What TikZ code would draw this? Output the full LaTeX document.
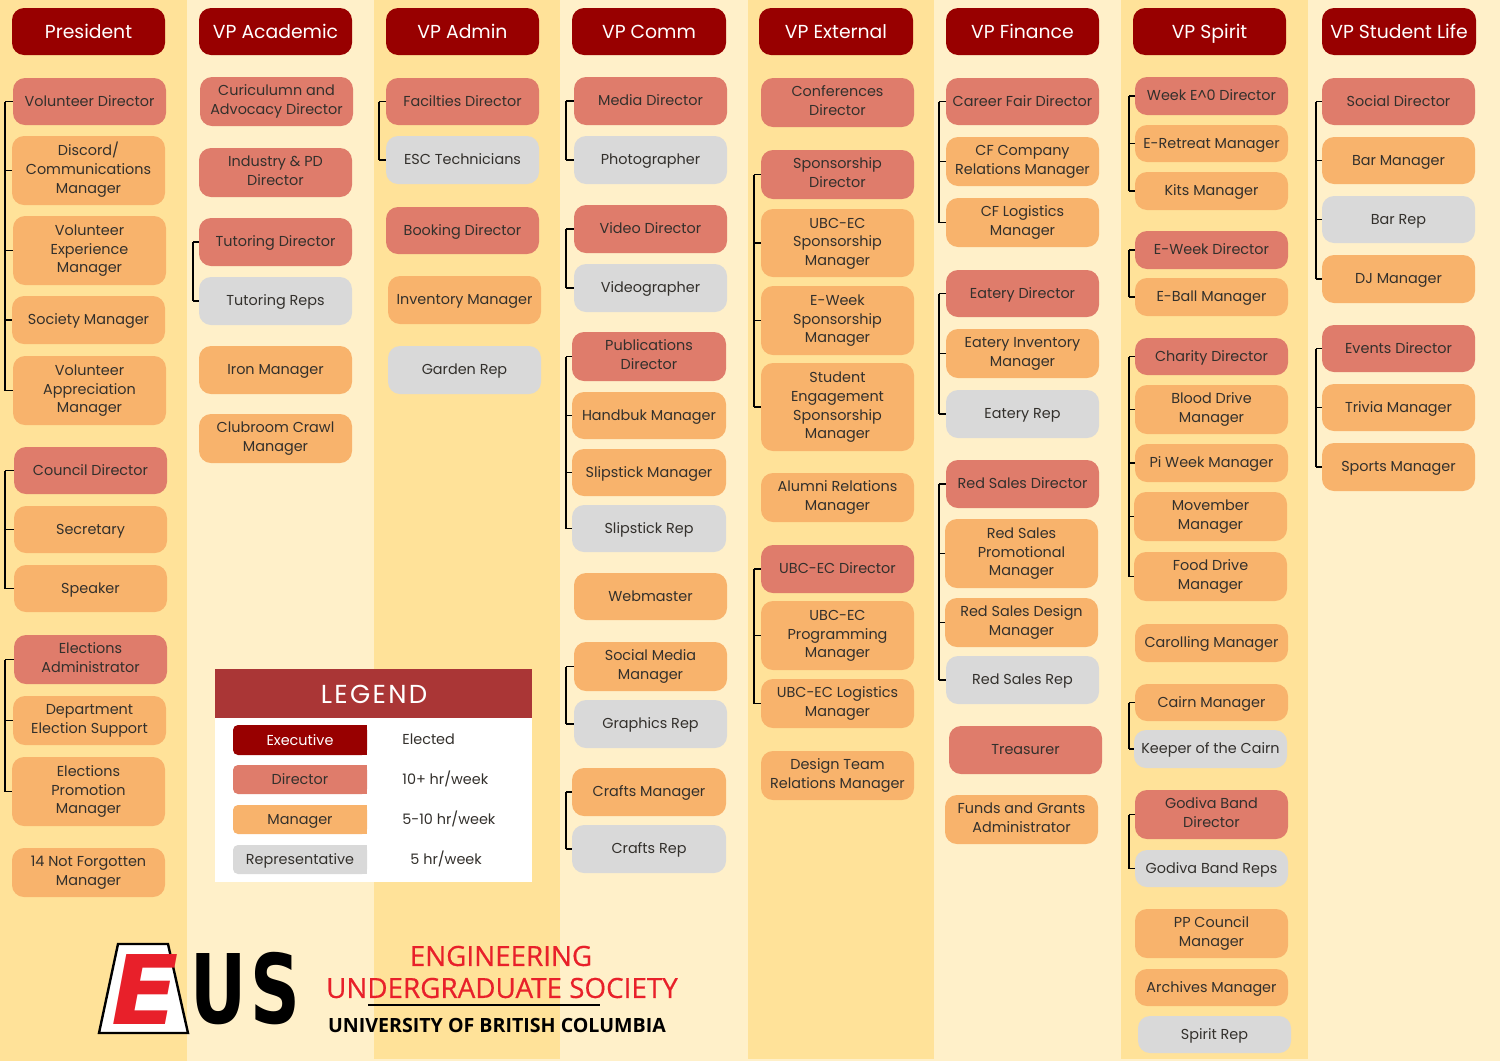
\documentclass[tikz,border=0pt]{standalone}
\usepackage{fontspec}
\setmainfont{Poppins}
\newfontfamily\logofont[FakeBold=0.5]{Open Sans}
\newfontfamily\logobold{Open Sans}
\newfontfamily\blockfont{DejaVu Sans}
\definecolor{execc}{HTML}{980000}
\definecolor{dirc}{HTML}{DF7C6B}
\definecolor{mgrc}{HTML}{F8B36C}
\definecolor{repc}{HTML}{D9D9D9}
\definecolor{bgdark}{HTML}{FFE299}
\definecolor{bglight}{HTML}{FFF0C9}
\definecolor{legc}{HTML}{AA3636}
\definecolor{logored}{HTML}{E8202A}
\definecolor{ink}{HTML}{33302C}
\tikzset{
  x=0.5pt,y=-0.5pt,
  box/.style={rounded corners=6pt,inner sep=0pt,align=center,text=ink,font=\fontsize{7.2}{9.35}\selectfont,
    execute at begin node={\rule{0pt}{7.5pt}},execute at end node={\rule[-2.8pt]{0pt}{2.8pt}}},
  execbox/.style={box,fill=execc,text=white,font=\fontsize{9.4}{11}\selectfont,
    execute at begin node={\rule{0pt}{9.5pt}}},
  dirbox/.style={box,fill=dirc},
  mgrbox/.style={box,fill=mgrc},
  repbox/.style={box,fill=repc},
  conn/.style={draw=black,line width=0.65pt},
  swatch/.style={inner sep=0pt,font=\fontsize{7.2}{9}\selectfont,text=ink,execute at begin node=\strut},
  legval/.style={swatch,anchor=west},
  logotext/.style={inner sep=0pt,font=\logofont\fontsize{13.9}{15}\selectfont,text=logored},
  blockglyph/.style={inner sep=0pt,transform shape,font=\blockfont\bfseries\fontsize{48}{48}\selectfont},
}
\makeatletter
\newcommand\bx[7]{% name, style, x1,y1,x2,y2, text
  \pgfmathsetmacro\bw{(#5-#3)*0.5}\pgfmathsetmacro\bh{(#6-#4)*0.5}
  \pgfmathsetmacro\bcx{(#3+#5)/2}\pgfmathsetmacro\bcy{(#4+#6)/2}
  \in@{\\}{#7}%
  \ifin@
    \node[#2,minimum width=\bw pt,minimum height=\bh pt] (#1) at (\bcx,\bcy) {\begin{tabular}{@{}c@{}}#7\end{tabular}};
  \else
    \node[#2,minimum width=\bw pt,minimum height=\bh pt] (#1) at (\bcx,\bcy) {#7};
  \fi}
\makeatother
\newcommand\brk[2]{% spine x, list of node names
  \coordinate (S) at (#1,0);
  \foreach \n [count=\i] in {#2}{
    \ifnum\i=1 \coordinate (F) at (\n.west -| S);\fi
    \coordinate (L) at (\n.west -| S);
    \draw[conn] (\n.west) -- (\n.west -| S);
  }
  \draw[conn] (F) -- (L);}
\begin{document}
\begin{tikzpicture}
\useasboundingbox (0,0) rectangle (1500,1061);
\fill[bglight] (0,0) rectangle (1500,1061);
\fill[bgdark] (0,0) rectangle (187,1061);
\foreach \a/\b in {374/560,748/934,1121/1308}
  \fill[bgdark] (\a,0) rectangle (\b,1059);
% Column 1
\bx{pres}{execbox}{12}{8}{165}{55}{President}
\bx{a1}{dirbox}{13}{78}{166}{125}{Volunteer Director}
\bx{a2}{mgrbox}{12}{136}{165}{205}{Discord/\\Communications\\Manager}
\bx{a3}{mgrbox}{13}{216}{166}{285}{Volunteer\\Experience\\Manager}
\bx{a4}{mgrbox}{12}{296}{165}{344}{Society Manager}
\bx{a5}{mgrbox}{13}{356}{166}{425}{Volunteer\\Appreciation\\Manager}
\bx{a6}{dirbox}{14}{447}{167}{494}{Council Director}
\bx{a7}{mgrbox}{14}{506}{167}{553}{Secretary}
\bx{a8}{mgrbox}{14}{565}{167}{612}{Speaker}
\bx{a9}{dirbox}{14}{635}{167}{684}{Elections\\Administrator}
\bx{a10}{mgrbox}{13}{696}{166}{745}{Department\\Election Support}
\bx{a11}{mgrbox}{12}{757}{165}{826}{Elections\\Promotion\\Manager}
\bx{a12}{mgrbox}{12}{848}{165}{897}{14 Not Forgotten\\Manager}
% Column 2
\bx{vpa}{execbox}{199}{8}{352}{55}{VP Academic}
\bx{b1}{dirbox}{200}{77}{353}{126}{Curiculumn and\\Advocacy Director}
\bx{b2}{dirbox}{199}{148}{352}{197}{Industry \& PD\\Director}
\bx{b3}{dirbox}{199}{218}{352}{266}{Tutoring Director}
\bx{b4}{repbox}{199}{277}{352}{325}{Tutoring Reps}
\bx{b5}{mgrbox}{199}{346}{352}{394}{Iron Manager}
\bx{b6}{mgrbox}{199}{414}{352}{463}{Clubroom Crawl\\Manager}
% Column 3
\bx{vpd}{execbox}{386}{8}{539}{55}{VP Admin}
\bx{c1}{dirbox}{386}{78}{539}{125}{Facilties Director}
\bx{c2}{repbox}{386}{136}{539}{184}{ESC Technicians}
\bx{c3}{dirbox}{386}{207}{539}{254}{Booking Director}
\bx{c4}{mgrbox}{388}{276}{541}{324}{Inventory Manager}
\bx{c5}{repbox}{388}{346}{541}{394}{Garden Rep}
% Column 4
\bx{vpc}{execbox}{572}{8}{726}{55}{VP Comm}
\bx{d1}{dirbox}{574}{77}{727}{125}{Media Director}
\bx{d2}{repbox}{574}{136}{727}{184}{Photographer}
\bx{d3}{dirbox}{574}{205}{727}{253}{Video Director}
\bx{d4}{repbox}{574}{264}{727}{312}{Videographer}
\bx{d5}{dirbox}{572}{332}{726}{381}{Publications\\Director}
\bx{d6}{mgrbox}{572}{392}{726}{439}{Handbuk Manager}
\bx{d7}{mgrbox}{572}{449}{726}{496}{Slipstick Manager}
\bx{d8}{repbox}{572}{505}{726}{552}{Slipstick Rep}
\bx{d9}{mgrbox}{574}{573}{727}{620}{Webmaster}
\bx{d10}{mgrbox}{574}{642}{727}{691}{Social Media\\Manager}
\bx{d11}{repbox}{574}{700}{727}{748}{Graphics Rep}
\bx{d12}{mgrbox}{572}{768}{726}{816}{Crafts Manager}
\bx{d13}{repbox}{572}{825}{726}{873}{Crafts Rep}
% Column 5
\bx{vpe}{execbox}{759}{8}{913}{55}{VP External}
\bx{e1}{dirbox}{761}{78}{914}{127}{Conferences\\Director}
\bx{e2}{dirbox}{761}{150}{914}{199}{Sponsorship\\Director}
\bx{e3}{mgrbox}{761}{209}{914}{277}{UBC-EC\\Sponsorship\\Manager}
\bx{e4}{mgrbox}{761}{286}{914}{355}{E-Week\\Sponsorship\\Manager}
\bx{e5}{mgrbox}{761}{363}{914}{451}{Student\\Engagement\\Sponsorship\\Manager}
\bx{e6}{mgrbox}{761}{473}{914}{522}{Alumni Relations\\Manager}
\bx{e7}{dirbox}{761}{545}{914}{593}{UBC-EC Director}
\bx{e8}{mgrbox}{761}{601}{914}{670}{UBC-EC\\Programming\\Manager}
\bx{e9}{mgrbox}{761}{679}{914}{728}{UBC-EC Logistics\\Manager}
\bx{e10}{mgrbox}{761}{751}{914}{800}{Design Team\\Relations Manager}
% Column 6
\bx{vpf}{execbox}{946}{8}{1099}{55}{VP Finance}
\bx{f1}{dirbox}{946}{78}{1099}{125}{Career Fair Director}
\bx{f2}{mgrbox}{946}{137}{1099}{186}{CF Company\\Relations Manager}
\bx{f3}{mgrbox}{946}{198}{1099}{247}{CF Logistics\\Manager}
\bx{f4}{dirbox}{946}{270}{1099}{317}{Eatery Director}
\bx{f5}{mgrbox}{946}{329}{1099}{378}{Eatery Inventory\\Manager}
\bx{f6}{repbox}{946}{390}{1099}{438}{Eatery Rep}
\bx{f7}{dirbox}{946}{460}{1099}{508}{Red Sales Director}
\bx{f8}{mgrbox}{945}{519}{1098}{588}{Red Sales\\Promotional\\Manager}
\bx{f9}{mgrbox}{945}{598}{1098}{647}{Red Sales Design\\Manager}
\bx{f10}{repbox}{946}{656}{1099}{704}{Red Sales Rep}
\bx{f11}{dirbox}{949}{726}{1102}{774}{Treasurer}
\bx{f12}{mgrbox}{945}{795}{1098}{844}{Funds and Grants\\Administrator}
% Column 7
\bx{vps}{execbox}{1133}{8}{1286}{55}{VP Spirit}
\bx{g1}{dirbox}{1135}{77}{1288}{115}{Week E\textasciicircum 0 Director}
\bx{g2}{mgrbox}{1135}{125}{1288}{162}{E-Retreat Manager}
\bx{g3}{mgrbox}{1135}{172}{1288}{210}{Kits Manager}
\bx{g4}{dirbox}{1135}{231}{1288}{269}{E-Week Director}
\bx{g5}{mgrbox}{1135}{278}{1288}{316}{E-Ball Manager}
\bx{g6}{dirbox}{1135}{338}{1288}{375}{Charity Director}
\bx{g7}{mgrbox}{1135}{385}{1288}{434}{Blood Drive\\Manager}
\bx{g8}{mgrbox}{1135}{444}{1288}{482}{Pi Week Manager}
\bx{g9}{mgrbox}{1134}{492}{1287}{541}{Movember\\Manager}
\bx{g10}{mgrbox}{1134}{552}{1287}{601}{Food Drive\\Manager}
\bx{g11}{mgrbox}{1135}{624}{1288}{662}{Carolling Manager}
\bx{g12}{mgrbox}{1135}{684}{1288}{721}{Cairn Manager}
\bx{g13}{repbox}{1134}{730}{1287}{768}{Keeper of the Cairn}
\bx{g14}{dirbox}{1135}{790}{1288}{839}{Godiva Band\\Director}
\bx{g15}{repbox}{1135}{850}{1288}{887}{Godiva Band Reps}
\bx{g16}{mgrbox}{1135}{909}{1288}{958}{PP Council\\Manager}
\bx{g17}{mgrbox}{1135}{969}{1288}{1006}{Archives Manager}
\bx{g18}{repbox}{1138}{1016}{1291}{1053}{Spirit Rep}
% Column 8
\bx{vpl}{execbox}{1322}{8}{1476}{55}{VP Student Life}
\bx{h1}{dirbox}{1322}{78}{1475}{125}{Social Director}
\bx{h2}{mgrbox}{1322}{137}{1475}{184}{Bar Manager}
\bx{h3}{repbox}{1322}{196}{1475}{243}{Bar Rep}
\bx{h4}{mgrbox}{1322}{255}{1475}{303}{DJ Manager}
\bx{h5}{dirbox}{1322}{325}{1475}{372}{Events Director}
\bx{h6}{mgrbox}{1322}{384}{1475}{431}{Trivia Manager}
\bx{h7}{mgrbox}{1322}{443}{1475}{491}{Sports Manager}
% Connectors
\brk{5}{a1,a2,a3,a4,a5}
\brk{5}{a6,a7,a8}
\brk{5}{a9,a10,a11}
\brk{193}{b3,b4}
\brk{379}{c1,c2}
\brk{566}{d1,d2}
\brk{566}{d3,d4}
\brk{566}{d5,d6,d7,d8}
\brk{566}{d10,d11}
\brk{566}{d12,d13}
\brk{754}{e2,e3,e4,e5}
\brk{754}{e7,e8,e9}
\brk{939}{f1,f2,f3}
\brk{939}{f4,f5,f6}
\brk{939}{f7,f8,f9,f10}
\brk{1129}{g1,g2,g3}
\brk{1129}{g4,g5}
\brk{1129}{g6,g7,g8,g9,g10}
\brk{1129}{g12,g13}
\brk{1129}{g14,g15}
\brk{1316}{h1,h2,h3,h4}
\brk{1316}{h5,h6,h7}
% Legend
\fill[white] (215,718) rectangle (532,882);
\fill[legc] (215,669) rectangle (532,718);
\node[inner sep=0pt,text=white,font=\addfontfeature{LetterSpace=9}\fontsize{13}{14}\selectfont] (legtitle) at (374,694) {LEGEND};
\foreach \nm/\col/\ya/\yb/\txt/\tcol/\val/\vx in {
  k1/execc/725/755/Executive/white/Elected/402,
  k2/dirc/765/794/Director/ink/10+ hr\slash week/402,
  k3/mgrc/805/834/Manager/ink/5-10 hr\slash week/402,
  k4/repc/845/874/Representative/ink/5 hr\slash week/410}{
  \fill[\col,rounded corners=2.5pt] (233,\ya) rectangle (367,\yb);
  \fill[\col] (350,\ya) rectangle (367,\yb);
  \node[swatch,text=\tcol] (\nm) at (300,{(\ya+\yb)/2+1.5}) {\txt};
  \node[legval] (\nm v) at (\vx,{(\ya+\yb)/2+0.5}) {\val};
}
% Logo
\filldraw[fill=white,draw=black,line width=1.2pt,line join=miter] (118,944) -- (168,944) -- (188,1033) -- (99,1033) -- cycle;
\node[blockglyph,text=logored,xscale=1.04,yscale=1.0,xslant=0.18] (logoE) at (145,989) {E};
\node[blockglyph,text=black,xscale=0.72,yscale=1.0] (logoU) at (218.5,989) {U};
\node[blockglyph,text=black,xscale=0.72,yscale=1.0] (logoS) at (275,989) {S};
\node[logotext] (l1) at (501,956) {ENGINEERING};
\node[logotext] (l2) at (502,988) {UNDERGRADUATE SOCIETY};
\node[logotext,text=black,font=\logobold\bfseries\fontsize{9.8}{12}\selectfont] (l3) at (497,1025) {UNIVERSITY OF BRITISH COLUMBIA};
\coordinate (rl) at (368,1004.5); \coordinate (rr) at (600,1004.5);
\draw[black,line width=1pt] (rl) -- (rr);
\end{tikzpicture}
\end{document}
